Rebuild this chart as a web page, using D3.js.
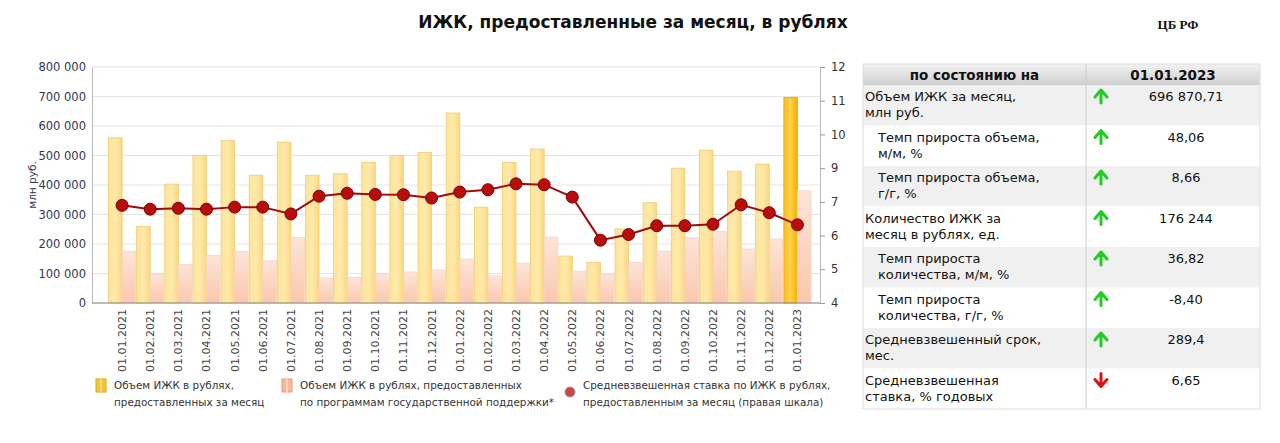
<!DOCTYPE html>
<html><head><meta charset="utf-8">
<script src="https://cdn.jsdelivr.net/npm/d3@7"></script>
<style>body{margin:0;background:#fff;font-family:Verdana,"DejaVu Sans",sans-serif;}</style>
</head><body>
<svg id="c" width="1280" height="443"></svg>
<script>
const categories=["01.01.2021","01.02.2021","01.03.2021","01.04.2021","01.05.2021","01.06.2021","01.07.2021","01.08.2021","01.09.2021","01.10.2021","01.11.2021","01.12.2021","01.01.2022","01.02.2022","01.03.2022","01.04.2022","01.05.2022","01.06.2022","01.07.2022","01.08.2022","01.09.2022","01.10.2022","01.11.2022","01.12.2022","01.01.2023"];
const volumeTotal=[560000,260000,403000,500000,550000,433000,545000,433000,438000,477000,500000,510000,644000,325000,476000,522000,159000,137000,251000,340000,457000,518000,447000,471000,696871];
const volumeGov=[175000,97000,130000,162000,175000,143000,222000,85000,87000,100000,105000,112000,149000,92000,135000,223000,108000,98000,138000,176000,221000,242000,183000,217000,380000];
const rate=[7.31,7.18,7.21,7.18,7.25,7.25,7.02,7.62,7.72,7.68,7.67,7.56,7.76,7.84,8.04,8.01,7.59,6.13,6.32,6.62,6.62,6.67,7.33,7.06,6.65];
const leftTicks=[0,100000,200000,300000,400000,500000,600000,700000,800000];
const rightTickLabels=["12","11","10","9","7","6","5","4"];
const tableHeader=["по состоянию на","01.01.2023"];
const tableRows=[
 {l:["Объем ИЖК за месяц,","млн руб."],v:"696 870,71",up:true,ind:false},
 {l:["Темп прироста объема,","м/м, %"],v:"48,06",up:true,ind:true},
 {l:["Темп прироста объема,","г/г, %"],v:"8,66",up:true,ind:true},
 {l:["Количество ИЖК за","месяц в рублях, ед."],v:"176 244",up:true,ind:false},
 {l:["Темп прироста","количества, м/м, %"],v:"36,82",up:true,ind:true},
 {l:["Темп прироста","количества, г/г, %"],v:"-8,40",up:true,ind:true},
 {l:["Средневзвешенный срок,","мес."],v:"289,4",up:true,ind:false},
 {l:["Средневзвешенная","ставка, % годовых"],v:"6,65",up:false,ind:false}];
const legendItems=[["Объем ИЖК в рублях,","предоставленных за месяц"],["Объем ИЖК в рублях, предоставленных","по программам государственной поддержки*"],["Средневзвешенная ставка по ИЖК в рублях,","предоставленным за месяц (правая шкала)"]];

const svg=d3.select("#c");
const defs=svg.append("defs");
function grad(id,c1,c2,c3){const g=defs.append("linearGradient").attr("id",id).attr("x1",0).attr("x2",1).attr("y1",0).attr("y2",0);
 g.append("stop").attr("offset","0%").attr("stop-color",c1);g.append("stop").attr("offset","50%").attr("stop-color",c2);g.append("stop").attr("offset","100%").attr("stop-color",c3);}
grad("gy","#fde49a","#fee9ab","#fbd880");
grad("gy2","#fbbd1c","#fdd04a","#f6b000");
const gp=defs.append("linearGradient").attr("id","gp").attr("x1",0).attr("x2",0).attr("y1",0).attr("y2",1);
gp.append("stop").attr("offset","0%").attr("stop-color","#fde4d8");gp.append("stop").attr("offset","100%").attr("stop-color","#f9c7ad");
const gh=defs.append("linearGradient").attr("id","gh").attr("x1",0).attr("x2",0).attr("y1",0).attr("y2",1);
gh.append("stop").attr("offset","0%").attr("stop-color","#f2f2f2");gh.append("stop").attr("offset","100%").attr("stop-color","#cfcfcf");

svg.append("text").attr("x",633).attr("y",28).attr("text-anchor","middle").attr("font-size",17).attr("font-weight","bold").attr("fill","#111").text("ИЖК, предоставленные за месяц, в рублях");
svg.append("text").attr("x",1178).attr("y",29).attr("text-anchor","middle").attr("font-size",13).attr("font-weight","bold").attr("font-family","Liberation Serif,serif").attr("fill","#111").text("ЦБ РФ");

const L=92,R=820,T=67,B=303;
const y=d3.scaleLinear().domain([0,800000]).range([B,T]);
const yr=d3.scaleLinear().domain([4,12]).range([B,T]);
const x=d3.scaleBand().domain(categories).range([108,811.5]).padding(0);
const bw=x.bandwidth();

const g=svg.append("g");
g.selectAll(".grid").data(leftTicks).join("line").attr("x1",L).attr("x2",R).attr("y1",d=>y(d)).attr("y2",d=>y(d)).attr("stroke","#e4e4e4");
const la=g.append("g").attr("transform",`translate(${L},0)`).call(d3.axisLeft(y).tickValues(leftTicks).tickSize(0).tickPadding(6).tickFormat(d=>d3.format(",")(d).replace(/,/g," ")));
la.select(".domain").attr("stroke","#bbb");
la.selectAll("text").attr("font-size",11.5).attr("fill","#2b3a55").attr("font-family","Verdana,DejaVu Sans,sans-serif");
svg.append("text").attr("transform","translate(36,185) rotate(-90)").attr("text-anchor","middle").attr("font-size",10.5).attr("fill","#2b3a55").text("млн руб.");

const yl=d3.scalePoint().domain(rightTickLabels).range([T,B]);
const ra=g.append("g").attr("transform",`translate(${R},0)`).call(d3.axisRight(yl).tickSizeInner(5).tickSizeOuter(0).tickPadding(6));
ra.selectAll("line").attr("stroke","#999");
ra.select(".domain").attr("stroke","#bbb");
ra.selectAll("text").attr("font-size",11.5).attr("fill","#333").attr("font-family","Verdana,DejaVu Sans,sans-serif");

g.selectAll(".bt").data(categories).join("rect")
 .attr("x",d=>x(d)+0.5).attr("width",bw/2-0.5)
 .attr("y",(d,i)=>y(volumeTotal[i])).attr("height",(d,i)=>B-y(volumeTotal[i]))
 .attr("fill",(d,i)=>i===categories.length-1?"url(#gy2)":"url(#gy)")
 .attr("stroke",(d,i)=>i===categories.length-1?"#e8a800":"#f0cc70").attr("stroke-width",0.8);
g.selectAll(".bg").data(categories).join("rect")
 .attr("x",d=>x(d)+bw/2).attr("width",bw/2-0.5)
 .attr("y",(d,i)=>y(volumeGov[i])).attr("height",(d,i)=>B-y(volumeGov[i]))
 .attr("fill","url(#gp)").attr("stroke","#f7d3c0").attr("stroke-width",0.8);

g.append("line").attr("x1",L).attr("x2",R).attr("y1",B).attr("y2",B).attr("stroke","#888");

const cx=d=>x(d)+bw/2;
g.append("path").datum(categories).attr("fill","none").attr("stroke","#a10a0a").attr("stroke-width",2)
 .attr("d",d3.line().x(d=>cx(d)).y((d,i)=>yr(rate[i])));
g.selectAll(".pt").data(categories).join("circle").attr("cx",d=>cx(d)).attr("cy",(d,i)=>yr(rate[i])).attr("r",6)
 .attr("fill","#b80d0d").attr("stroke","#7a0000").attr("stroke-width",1);

g.selectAll(".xl").data(categories).join("text")
 .attr("transform",d=>`translate(${cx(d)+4},309) rotate(-90)`).attr("text-anchor","end")
 .attr("font-size",11).attr("fill","#444").text(d=>d);

const lx=[96,282,565];
legendItems.forEach((it,i)=>{
 if(i<2){svg.append("rect").attr("x",lx[i]).attr("y",379).attr("width",10).attr("height",13).attr("fill",i===0?"#fbc531":"#f8b89a").attr("stroke",i===0?"#e0a800":"#ee9d7a");
  svg.append("line").attr("x1",lx[i]+5).attr("x2",lx[i]+5).attr("y1",379).attr("y2",392).attr("stroke",i===0?"#fde7a0":"#fde0d0").attr("stroke-width",1.5);}
 else{svg.append("circle").attr("cx",lx[i]+5).attr("cy",392).attr("r",5).attr("fill","#c44").attr("stroke","#999");}
 it.forEach((t,k)=>svg.append("text").attr("x",lx[i]+18).attr("y",389+k*17).attr("font-size",10.4).attr("fill","#333").attr("font-family","Verdana,DejaVu Sans,sans-serif").text(t));
});

const tx=863,tw=397,cd=1086,hy=64,hh=21,rh=40.5;
const tg=svg.append("g");
tg.append("rect").attr("x",tx).attr("y",hy).attr("width",tw).attr("height",hh).attr("fill","url(#gh)");
tg.append("text").attr("x",(tx+cd)/2).attr("y",hy+15.5).attr("text-anchor","middle").attr("font-size",13.5).attr("font-weight","bold").attr("fill","#111").text(tableHeader[0]);
tg.append("text").attr("x",(cd+tx+tw)/2).attr("y",hy+15.5).attr("text-anchor","middle").attr("font-size",13.5).attr("font-weight","bold").attr("fill","#111").text(tableHeader[1]);
tableRows.forEach((r,i)=>{
 const ry=hy+hh+i*rh;
 tg.append("rect").attr("x",tx).attr("y",ry).attr("width",tw).attr("height",rh).attr("fill",i%2===0?"#f0f0f0":"#fff");
 r.l.forEach((t,k)=>tg.append("text").attr("x",tx+2+(r.ind?13:0)).attr("y",ry+16+k*16).attr("font-size",13).attr("fill","#111").text(t));
 tg.append("text").attr("x",1186).attr("y",ry+16).attr("text-anchor","middle").attr("font-size",13).attr("fill","#111").text(r.v);
 const ax=1101,ay=ry+11,col=r.up?"#22cc22":"#dd1111";
 const p=r.up?`M${ax-6},${ay+1}L${ax},${ay-6}L${ax+6},${ay+1}M${ax},${ay-5}L${ax},${ay+7}`:`M${ax-6},${ay}L${ax},${ay+7}L${ax+6},${ay}M${ax},${ay+6}L${ax},${ay-6}`;
 tg.append("path").attr("d",p).attr("fill","none").attr("stroke",col).attr("stroke-width",3).attr("stroke-linecap","round").attr("stroke-linejoin","round");
});
tg.append("line").attr("x1",cd).attr("x2",cd).attr("y1",hy).attr("y2",hy+hh+8*rh).attr("stroke","#ccc");
tg.append("rect").attr("x",tx).attr("y",hy).attr("width",tw).attr("height",hh+8*rh).attr("fill","none").attr("stroke","#ddd");
</script>
</body></html>
